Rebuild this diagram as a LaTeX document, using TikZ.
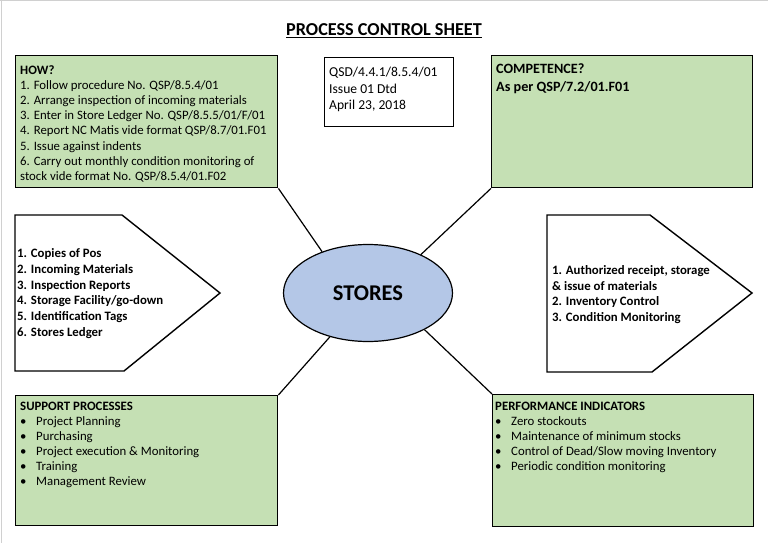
\documentclass[tikz,border=0pt]{standalone}
\usepackage{fontspec}
\setmainfont{Carlito}
\usetikzlibrary{shapes.geometric}
\definecolor{boxgreen}{HTML}{C5E0B4}
\definecolor{ellblue}{HTML}{B4C7E7}
\definecolor{edgegray}{HTML}{D0D0D0}
\tikzset{
  greenbox/.style={draw=black, line width=1.4pt, fill=boxgreen, anchor=north west, inner sep=0pt},
  whitebox/.style={draw=black, line width=1.2pt, fill=white, anchor=north west, inner sep=0pt},
  pent/.style={draw=black, line width=1.4pt, fill=white},
  txt/.style={inner sep=0pt, align=left, font=\fontsize{12.8}{15.1}\selectfont},
  btxt/.style={txt, font=\fontsize{12.8}{15.8}\selectfont\bfseries},
  conn/.style={draw=black, line width=1.2pt},
}
\newcommand{\bitem}[1]{\makebox[16pt][l]{\textbullet}#1}
\begin{document}
\begin{tikzpicture}[x=1pt, y=-1pt]
\useasboundingbox (0,0) rectangle (768,543);
\draw[edgegray, line width=1pt] (0,0.5) -- (768,0.5);
\draw[edgegray, line width=1pt] (1.5,0) -- (1.5,543);

% title
\node[inner sep=0pt, font=\fontsize{18.2}{20}\selectfont\bfseries] (title) at (384,31) {\underline{PROCESS CONTROL SHEET}};

% HOW box
\node[greenbox, minimum width=262pt, minimum height=132pt] (how) at (15,55) {};
\node[txt, anchor=north west] (howtxt) at (20,65.5) {\textbf{HOW?}\\
1. Follow procedure No. QSP/8.5.4/01\\
2. Arrange inspection of incoming materials\\
3. Enter in Store Ledger No. QSP/8.5.5/01/F/01\\
4. Report NC Matis vide format QSP/8.7/01.F01\\
5. Issue against indents\\
6. Carry out monthly condition monitoring of\\
stock vide format No. QSP/8.5.4/01.F02};

% QSD box
\node[whitebox, minimum width=129pt, minimum height=69pt] (qsd) at (324,57) {};
\node[txt, anchor=north west, font=\fontsize{13.6}{16.5}\selectfont] (qsdtxt) at (329,67) {QSD/4.4.1/8.5.4/01\\Issue 01 Dtd\\April 23, 2018};

% COMPETENCE box
\node[greenbox, minimum width=261pt, minimum height=132pt] (comp) at (491,55) {};
\node[btxt, anchor=north west, font=\fontsize{14.2}{18.5}\selectfont\bfseries] (comptxt) at (496,63) {COMPETENCE?\\As per QSP/7.2/01.F01};

% left pentagon
\draw[pent] (15,215) -- (122,215) -- (220,293) -- (124,371) -- (15,371) -- cycle;
\node[btxt, anchor=west] (inputs) at (17,293.5) {1. Copies of Pos\\
2. Incoming Materials\\
3. Inspection Reports\\
4. Storage Facility/go-down\\
5. Identification Tags\\
6. Stores Ledger};

% right pentagon
\draw[pent] (547,215) -- (650,215) -- (752,293) -- (652,372) -- (547,372) -- cycle;
\node[btxt, anchor=west] (outputs) at (552,294.5) {1. Authorized receipt, storage\\
\& issue of materials\\
2. Inventory Control\\
3. Condition Monitoring};

% central ellipse
\node[ellipse, draw=black, line width=1.2pt, fill=ellblue, minimum width=169pt, minimum height=97pt, inner sep=0pt, font=\fontsize{22.5}{24}\selectfont\bfseries] (stores) at (368,293) {STORES};

% SUPPORT box
\node[greenbox, minimum width=262pt, minimum height=130pt] (supp) at (15,395) {};
\node[txt, anchor=north west] (supptxt) at (20,401.5) {\textbf{SUPPORT PROCESSES}\\
\bitem{Project Planning}\\
\bitem{Purchasing}\\
\bitem{Project execution \& Monitoring}\\
\bitem{Training}\\
\bitem{Management Review}};

% PERFORMANCE box
\node[greenbox, minimum width=261pt, minimum height=132pt] (perf) at (492,394) {};
\node[txt, anchor=north west] (perftxt) at (495,401.5) {\textbf{PERFORMANCE INDICATORS}\\
\bitem{Zero stockouts}\\
\bitem{Maintenance of minimum stocks}\\
\bitem{Control of Dead/Slow moving Inventory}\\
\bitem{Periodic condition monitoring}};

% connectors
\draw[conn] (how.south east) -- (stores.138);
\draw[conn] (comp.south west) -- (stores.36);
\draw[conn] (supp.north east) -- (stores.229);
\draw[conn] (perf.north west) -- (stores.327);
\end{tikzpicture}
\end{document}
